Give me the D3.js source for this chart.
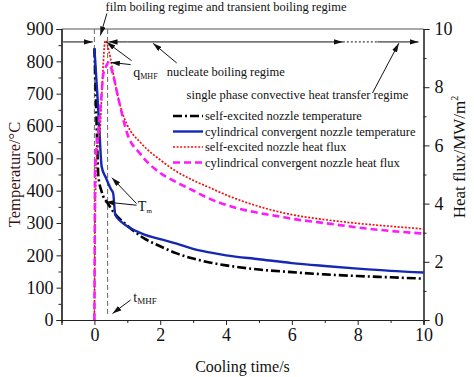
<!DOCTYPE html>
<html>
<head>
<meta charset="utf-8">
<script src="https://cdn.jsdelivr.net/npm/d3@7"></script>
<style>
html,body{margin:0;padding:0;background:#fff;}
svg{display:block;}
text{font-family:"Liberation Serif","Times New Roman",serif;fill:#111;}
</style>
</head>
<body>
<svg id="chart" width="474" height="377"></svg>
<script>
// ---- data ----
const tBlack = [0, 0.04, 0.08, 0.12, 0.22, 0.3, 0.37, 0.57, 1.0, 1.5, 2, 2.5, 3, 3.5, 4, 5, 6, 7, 8, 9, 10];
const selfExcitedTemp = [840, 700, 560, 445, 397, 375, 366, 335, 292, 253, 228, 206, 190, 178, 169, 156, 148, 141, 136, 132, 128];

const tBlue = [0, 0.05, 0.1, 0.15, 0.22, 0.35, 0.5, 0.57, 0.63, 0.7, 0.8, 1.0, 1.5, 2, 2.5, 3, 3.5, 4, 5, 6, 7, 8, 9, 10];
const cylindricalTemp = [840, 760, 680, 590, 475, 440, 405, 392, 328, 315, 305, 290, 265, 250, 236, 220, 209, 200, 188, 176, 167, 159, 152, 147];

const tRed = [0, 0.02, 0.05, 0.1, 0.17, 0.22, 0.33, 0.45, 0.6, 0.8, 1.0, 1.4, 2, 2.5, 3, 3.5, 4, 5, 6, 7, 8, 9, 10];
const selfExcitedFlux = [0, 3.0, 5.2, 6.0, 6.5, 7.65, 9.6, 9.2, 8.3, 7.3, 6.7, 6.1, 5.5, 5.1, 4.8, 4.55, 4.3, 3.9, 3.62, 3.45, 3.32, 3.22, 3.13];

const tMag = [0, 0.01, 0.02, 0.06, 0.12, 0.2, 0.27, 0.35, 0.43, 0.55, 0.73, 1.0, 1.4, 2, 2.4, 3, 3.4, 4.4, 5, 5.7, 6, 7, 8, 9, 10];
const cylindricalFlux = [0, 2.5, 5.1, 5.9, 6.5, 7.5, 8.45, 8.7, 8.85, 8.5, 7.6, 6.4, 5.7, 5.05, 4.79, 4.45, 4.22, 3.82, 3.68, 3.54, 3.48, 3.33, 3.18, 3.06, 2.97];

const xTicks = [0, 2, 4, 6, 8, 10];
const xMinor = [1, 3, 5, 7, 9];
const tempTicks = [0, 100, 200, 300, 400, 500, 600, 700, 800, 900];
const tempMinor = [50, 150, 250, 350, 450, 550, 650, 750, 850];
const fluxTicks = [0, 2, 4, 6, 8, 10];
const fluxMinor = [1, 3, 5, 7, 9];

const legendLabels = ["self-excited nozzle temperature", "cylindrical convergent  nozzle temperature", "self-excited nozzle heat flux", "cylindrical convergent  nozzle heat flux"];
const regimeTimes = [0, 0.4]; // t=0 and t_MHF

// ---- layout ----
const FONT = "'Liberation Serif','Times New Roman',serif";
const L = 61.5, R = 423.5, T = 29, B = 320;
const svg = d3.select("#chart");
const x = d3.scaleLinear().domain([-1, 10]).range([L, R]);
const yT = d3.scaleLinear().domain([0, 900]).range([B, T]);
const yH = d3.scaleLinear().domain([0, 10]).range([B, T]);

// arrow marker
const defs = svg.append("defs");
defs.append("marker").attr("id", "ah").attr("viewBox", "0 0 10 6")
  .attr("refX", 10).attr("refY", 3).attr("markerWidth", 9).attr("markerHeight", 5.4)
  .attr("markerUnits", "userSpaceOnUse").attr("orient", "auto")
  .append("path").attr("d", "M0,0 L10,3 L0,6 Z").attr("fill", "#111");

// frame top
svg.append("line").attr("x1", L).attr("x2", R).attr("y1", T).attr("y2", T).attr("stroke", "#555").attr("stroke-width", 1);

// axes
svg.append("g").attr("transform", `translate(0,${B})`)
  .call(d3.axisBottom(x).tickValues(xTicks).tickSize(5).tickPadding(3).tickFormat(d3.format("d")));
svg.append("g").attr("transform", `translate(0,${B})`)
  .call(d3.axisBottom(x).tickValues(xMinor).tickSize(3).tickFormat(""));
svg.append("g").attr("transform", `translate(${L},0)`)
  .call(d3.axisLeft(yT).tickValues(tempTicks).tickSize(5).tickPadding(3));
svg.append("g").attr("transform", `translate(${L},0)`)
  .call(d3.axisLeft(yT).tickValues(tempMinor).tickSize(3).tickFormat(""));
const axR = svg.append("g").attr("transform", `translate(${R},0)`)
  .call(d3.axisRight(yH).tickValues(fluxTicks).tickSize(6).tickPadding(5));
svg.append("g").attr("transform", `translate(${R},0)`)
  .call(d3.axisRight(yH).tickValues(fluxMinor).tickSize(3).tickFormat(""));
svg.selectAll("g").attr("font-family", FONT);
svg.selectAll(".domain").attr("stroke", "#222").attr("stroke-width", 1.2);
svg.selectAll(".tick line").attr("stroke", "#222");
svg.selectAll(".tick text").style("font-family", FONT).style("font-size", "18px").attr("fill", "#111");
axR.select(".domain").attr("stroke", "#666");

// axis titles
svg.append("text").attr("x", (L + R) / 2).attr("y", 372).attr("text-anchor", "middle")
  .style("font-size", "16px").text("Cooling time/s");
svg.append("text").attr("transform", `translate(20,${(T + B) / 2}) rotate(-90)`).attr("text-anchor", "middle")
  .style("font-size", "16.5px").style("fill", "#3a1010").text("Temperature/°C");
const rt = svg.append("text").attr("transform", `translate(465,157) rotate(-90)`).attr("text-anchor", "middle")
  .style("font-size", "17px");
rt.append("tspan").text("Heat flux/MW/m");
rt.append("tspan").attr("dy", -7).style("font-size", "10px").text("2");

// regime dashed lines
svg.selectAll(".regime").data(regimeTimes).enter().append("line")
  .attr("x1", d => x(d)).attr("x2", d => x(d)).attr("y1", T).attr("y2", B - 4)
  .attr("stroke", "#777").attr("stroke-width", 1.1).attr("stroke-dasharray", "5,3");

// series
const series = [
  {t: tBlack, v: selfExcitedTemp, y: yT, color: "#000", w: 2.6, dash: "9,3,2,3"},
  {t: tBlue, v: cylindricalTemp, y: yT, color: "#1428b4", w: 2.4, dash: null},
  {t: tRed, v: selfExcitedFlux, y: yH, color: "#f01010", w: 1.7, dash: "2,1.6"},
  {t: tMag, v: cylindricalFlux, y: yH, color: "#ff19ff", w: 2.6, dash: "7,4"}
];
series.forEach(s => {
  const pts = s.t.map((t, i) => [t, s.v[i]]);
  const line = d3.line().x(d => x(d[0])).y(d => s.y(d[1])).curve(d3.curveMonotoneX);
  svg.append("path").datum(pts).attr("d", line).attr("fill", "none")
    .attr("stroke", s.color).attr("stroke-width", s.w)
    .attr("stroke-dasharray", s.dash);
});

// legend
const lg = svg.append("g");
legendLabels.forEach((lab, i) => {
  const yy = 116 + i * 15.5;
  const s = series[i];
  lg.append("line").attr("x1", 173).attr("x2", 203).attr("y1", yy).attr("y2", yy)
    .attr("stroke", s.color).attr("stroke-width", s.w).attr("stroke-dasharray", s.dash);
  lg.append("text").attr("x", 205).attr("y", yy + 4).style("font-size", "12.5px").text(lab);
});

// annotations (positions in data units)
function arrow(t1, v1, t2, v2, dashed) {
  svg.append("line").attr("x1", x(t1)).attr("y1", yT(v1)).attr("x2", x(t2)).attr("y2", yT(v2))
    .attr("stroke", "#111").attr("stroke-width", 1)
    .attr("stroke-dasharray", dashed ? "2,2" : null)
    .attr("marker-end", dashed ? null : "url(#ah)");
}
arrow(-0.95, 860, -0.05, 860);
arrow(1.0, 860, 0.43, 860);
arrow(1.0, 860, 7.55, 860);
arrow(7.55, 860, 8.6, 860, true);
arrow(8.6, 860, 9.85, 860);
arrow(0.38, 948, 0.18, 880);
svg.append("text").attr("x", x(4.0)).attr("y", yT(957)).attr("text-anchor", "middle")
  .style("font-size", "12.5px").text("film boiling regime and transient boiling regime");
const q = svg.append("text").attr("x", x(1.18)).attr("y", yT(752)).style("font-size", "14px");
q.append("tspan").text("q");
q.append("tspan").attr("dy", 2).style("font-size", "8px").text("MHF");
svg.append("line").attr("x1", x(1.13)).attr("y1", yT(802)).attr("x2", x(0.37)).attr("y2", yH(9.55))
  .attr("stroke", "#111").attr("marker-end", "url(#ah)");
svg.append("line").attr("x1", x(1.1)).attr("y1", yT(790)).attr("x2", x(0.5)).attr("y2", yH(8.85))
  .attr("stroke", "#111").attr("marker-end", "url(#ah)");
svg.append("text").attr("x", x(2.2)).attr("y", yT(755)).style("font-size", "12.5px").text("nucleate boiling regime");
arrow(2.5, 795, 1.78, 856);
svg.append("text").attr("x", x(2.8)).attr("y", yT(682)).style("font-size", "12.5px").text("single phase convective heat transfer regime");
arrow(8.45, 702, 9.25, 856);
const tm = svg.append("text").attr("x", x(1.32)).attr("y", yT(338)).style("font-size", "14px");
tm.append("tspan").text("T");
tm.append("tspan").attr("dy", 2).style("font-size", "7px").text("m");
svg.append("line").attr("x1", x(1.28)).attr("y1", yT(360)).attr("x2", x(0.53)).attr("y2", yT(440))
  .attr("stroke", "#111").attr("marker-end", "url(#ah)");
svg.append("line").attr("x1", x(1.28)).attr("y1", yT(355)).attr("x2", x(0.33)).attr("y2", yT(365))
  .attr("stroke", "#111").attr("marker-end", "url(#ah)");
const tt = svg.append("text").attr("x", x(1.18)).attr("y", yT(55)).style("font-size", "14px");
tt.append("tspan").text("t");
tt.append("tspan").attr("dy", 2).style("font-size", "9px").text("MHF");
svg.append("line").attr("x1", x(1.1)).attr("y1", yT(62)).attr("x2", x(0.55)).attr("y2", yT(20))
  .attr("stroke", "#111").attr("marker-end", "url(#ah)");
</script>
</body>
</html>
